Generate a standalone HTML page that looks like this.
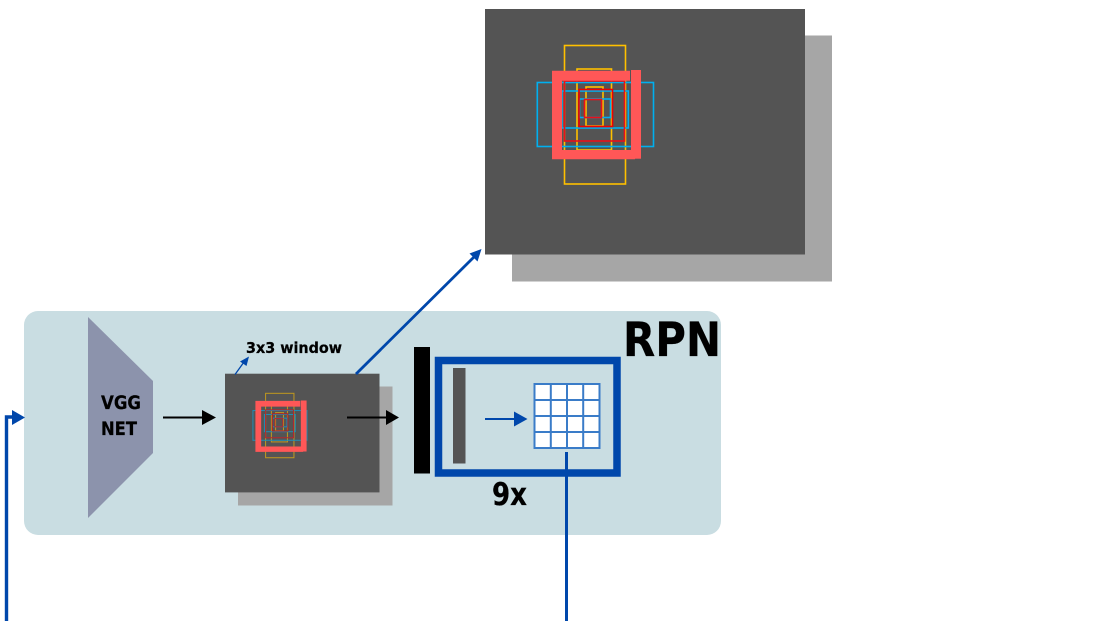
<!DOCTYPE html>
<html><head><meta charset="utf-8"><style>
html,body{margin:0;padding:0;background:#fff}
svg{display:block}
text{font-family:"DejaVu Sans","Liberation Sans",sans-serif;font-weight:700;fill:#000;stroke:#000;stroke-width:.25}
</style></head><body>
<svg width="1104" height="621" viewBox="0 0 1104 621" xmlns="http://www.w3.org/2000/svg">
<defs>
<g id="anch" fill="none">
<rect x="564.5" y="45.5" width="61" height="138.5" stroke="#ffc000"/>
<rect x="577" y="69" width="34.5" height="81" stroke="#ffc000"/>
<rect x="586" y="87" width="17" height="39" stroke="#ffc000"/>
<rect x="537.3" y="82.5" width="116.2" height="64" stroke="#00b0f0"/>
<rect x="562" y="91" width="66.3" height="37" stroke="#00b0f0"/>
<rect x="579.5" y="99" width="31" height="18.5" stroke="#00b0f0"/>
<rect x="564.5" y="81" width="60" height="60" stroke="#e8101a"/>
<rect x="579" y="89.5" width="33.5" height="37" stroke="#f00000"/>
<rect x="584.5" y="99.5" width="17" height="18" stroke="#e8101a"/>
</g>
<g id="frame" fill="#ff5757">
<path d="M552 70.7H630V80.7H562V150H635V159.3H552Z"/>
<rect x="631" y="70" width="10" height="88.7"/>
</g>
</defs>

<rect x="512" y="35.5" width="320" height="246" fill="#a6a6a6"/>
<rect x="485" y="9" width="320" height="245.5" fill="#545454"/>
<g stroke-width="1.6"><use href="#anch"/></g>
<use href="#frame"/>

<rect x="24" y="311" width="697" height="224" rx="14" fill="#c9dde2"/>
<polygon points="88,317 153,381 153,453 88,518" fill="#8c93ac"/>
<text x="101" y="409" font-size="19" textLength="40" lengthAdjust="spacingAndGlyphs">VGG</text>
<text x="101" y="435" font-size="19" textLength="36" lengthAdjust="spacingAndGlyphs">NET</text>

<text x="623" y="356" font-size="47" textLength="98" lengthAdjust="spacingAndGlyphs">RPN</text>
<text x="246" y="353" font-size="15" textLength="96" lengthAdjust="spacingAndGlyphs">3x3 window</text>
<text x="492" y="505" font-size="31" textLength="35" lengthAdjust="spacingAndGlyphs">9x</text>

<rect x="238" y="386.5" width="154.5" height="119" fill="#a6a6a6"/>
<rect x="225" y="373.7" width="154.5" height="118.7" fill="#545454"/>
<g transform="translate(280 425.5) scale(0.465) translate(-595.5 -114.7)" stroke-width="2.2" opacity="0.62"><use href="#anch"/></g>
<g transform="translate(281 426.2) scale(0.575) translate(-596.5 -114.7)"><use href="#frame"/></g>

<line x1="163" y1="417.5" x2="203" y2="417.5" stroke="#000" stroke-width="2"/>
<polygon points="202,410 216,417.5 202,425" fill="#000"/>
<line x1="347" y1="417.5" x2="387" y2="417.5" stroke="#000" stroke-width="2"/>
<polygon points="386,410 399,417.5 386,425" fill="#000"/>

<rect x="414" y="347" width="16" height="126.5" fill="#000"/>
<rect x="438.5" y="360.5" width="178.5" height="112.5" fill="none" stroke="#0047ab" stroke-width="7.5"/>
<rect x="453" y="368" width="12.5" height="95.5" fill="#545454"/>

<line x1="485" y1="419" x2="515" y2="419" stroke="#0047ab" stroke-width="2"/>
<polygon points="514,411.5 527.5,419 514,426.5" fill="#0047ab"/>

<rect x="534.5" y="384" width="65" height="64" fill="#fff"/>
<path d="M534.5 384H599.5V448H534.5ZM550.8 384V448M567 384V448M583.2 384V448M534.5 400H599.5M534.5 416H599.5M534.5 432H599.5" fill="none" stroke="#3a7cc8" stroke-width="2"/>

<line x1="566.5" y1="452" x2="566.5" y2="621" stroke="#0047ab" stroke-width="3"/>

<path d="M6.5 621V417H13" fill="none" stroke="#0047ab" stroke-width="3.4"/>
<polygon points="12,410 25,417.5 12,425" fill="#0047ab"/>

<line x1="356" y1="374" x2="476" y2="255" stroke="#0047ab" stroke-width="2.8"/>
<polygon points="481.5,249 477.5,261.5 469.5,253.5" fill="#0047ab"/>
<line x1="235" y1="374.5" x2="244" y2="362" stroke="#0047ab" stroke-width="1.3"/>
<polygon points="249,356.5 246.5,366 240,361.5" fill="#0047ab"/>
</svg>
</body></html>
